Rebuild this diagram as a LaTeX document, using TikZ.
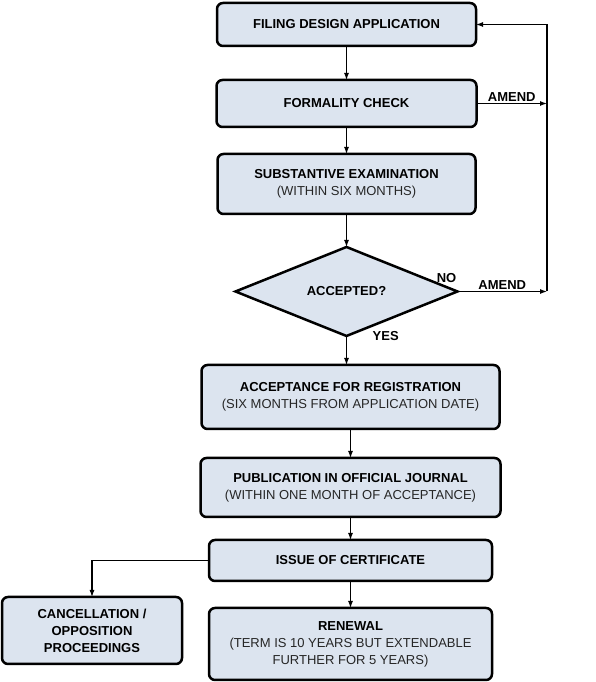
\documentclass[tikz,border=0pt]{standalone}
\usepackage{fontspec}
\setmainfont{Liberation Sans}
\usetikzlibrary{positioning,arrows.meta,shapes.geometric}
\definecolor{boxfill}{RGB}{220,228,239}
\tikzstyle{pbox}=[rectangle, rounded corners=6pt, draw=black, fill=boxfill, line width=2.5pt, outer sep=0pt, inner sep=2pt, align=center, font=\fontsize{13}{17}\selectfont]
\tikzstyle{dbox}=[diamond, draw=black, fill=boxfill, line width=2.5pt, outer sep=0pt, inner sep=0pt, minimum width=222pt, minimum height=89pt, font=\fontsize{13}{17}\selectfont]
\tikzstyle{pline}=[-{Latex[length=7pt,width=5pt]}, line width=1.1pt]
\tikzstyle{plabel}=[inner sep=1pt, font=\fontsize{13}{15}\selectfont\bfseries]
\newcommand{\subline}[1]{{\color{black!85}#1}}

\begin{document}
\begin{tikzpicture}[x=1pt,y=1pt,node distance=0pt]
\useasboundingbox (0,0) rectangle (595,682);
\node (FIL) [pbox, minimum width=259pt, minimum height=43pt] at (346.5,657.5) {\textbf{FILING DESIGN APPLICATION}};
\node (FORM) [pbox, minimum width=260pt, minimum height=47pt, below=34pt of FIL] {\textbf{FORMALITY CHECK}};
\node (SUB) [pbox, minimum width=258pt, minimum height=60pt, below=27pt of FORM] {\textbf{SUBSTANTIVE EXAMINATION}\\ \subline{(WITHIN SIX MONTHS)}};
\node (DIAM) [dbox, below=33pt of SUB] {\textbf{ACCEPTED?}};
\node (ACC) [pbox, minimum width=298pt, minimum height=64pt, below=29pt of DIAM, xshift=4pt] {\textbf{ACCEPTANCE FOR REGISTRATION}\\ \subline{(SIX MONTHS FROM APPLICATION DATE)}};
\node (PUB) [pbox, minimum width=300pt, minimum height=59pt, below=29pt of ACC] {\textbf{PUBLICATION IN OFFICIAL JOURNAL}\\ \subline{(WITHIN ONE MONTH OF ACCEPTANCE)}};
\node (ISS) [pbox, minimum width=283pt, minimum height=41pt, below=23pt of PUB] {\textbf{ISSUE OF CERTIFICATE}};
\node (REN) [pbox, minimum width=283pt, minimum height=72pt, below=27pt of ISS] {\textbf{RENEWAL}\\ \subline{(TERM IS 10 YEARS BUT EXTENDABLE}\\ \subline{FURTHER FOR 5 YEARS)}};
\node (CAN) [pbox, minimum width=180pt, minimum height=67pt, left=27pt of REN, yshift=13.5pt] {\textbf{CANCELLATION /}\\ \textbf{OPPOSITION}\\ \textbf{PROCEEDINGS}};
\coordinate (LOOP) at (547,0);
% main line
 \draw[pline]   (FIL.south) -- (FORM.north) ;
 \draw[pline]   (FORM.south) -- (SUB.north) ;
 \draw[pline]   (SUB.south) -- (DIAM.north) ;
 \draw[pline]   (DIAM.south) -- (DIAM.south |- ACC.north) ;
 \draw[pline]   (ACC.south) -- (PUB.north) ;
 \draw[pline]   (PUB.south) -- (ISS.north) ;
 \draw[pline]   (ISS.south) -- (REN.north) ;
 \draw[pline]   (ISS.west) -| (CAN.north) ;
% amend loop
 \draw[pline]   (FORM.east) -- node[plabel, above] {AMEND} (FORM.east -| LOOP) ;
 \draw[pline]   (DIAM.east) -- node[plabel, above] {AMEND} (DIAM.east -| LOOP) ;
 \draw[pline]   (DIAM.east -| LOOP) |- (FIL.east) ;
\node (NO) [plabel, above left=8pt and 0pt of DIAM.east] {NO};
\node (YES) [plabel, right=25pt of DIAM.south] {YES};
\end{tikzpicture}
\end{document}
